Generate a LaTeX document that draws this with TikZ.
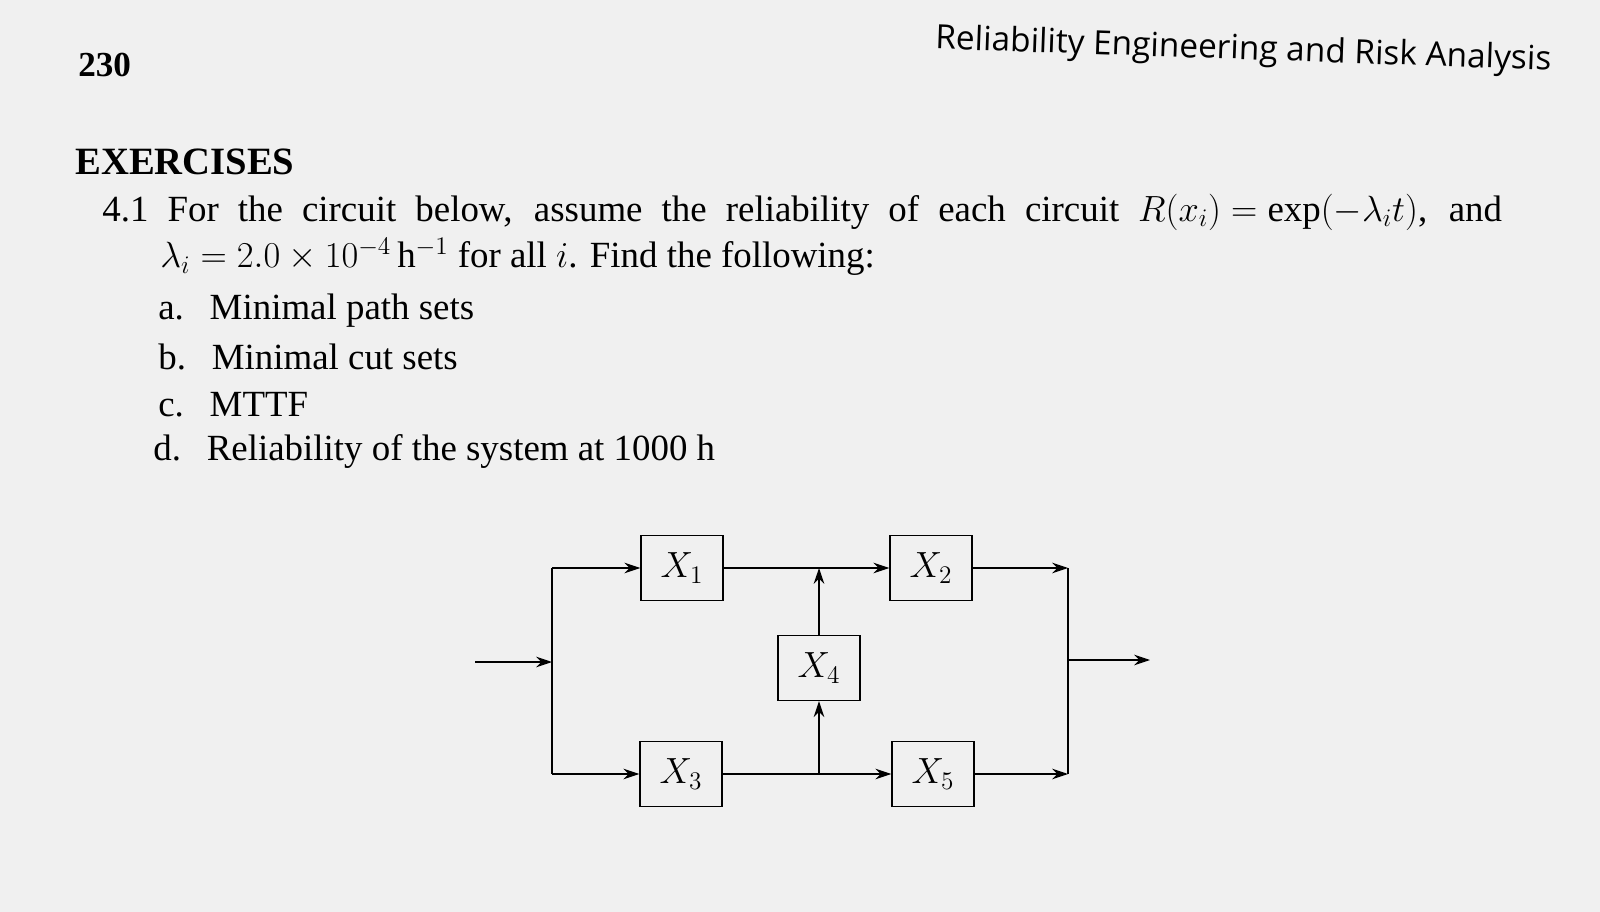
\documentclass[tikz,border=0pt]{standalone}
\usepackage{fontspec}
\setmainfont{Liberation Serif}
\newfontfamily\hdfont{Open Sans}
\usetikzlibrary{arrows.meta}
\begin{document}
\begin{tikzpicture}[x=0.02cm,y=-0.02cm,
  blk/.style={draw,thick,minimum width=1.64cm,minimum height=1.3cm,inner sep=0pt,font=\fontsize{22}{24}\selectfont},
  wire/.style={thick},
  arr/.style={thick,-{Stealth[length=9pt,width=6pt]}},
  txt/.style={anchor=west,inner sep=0pt,font=\fontsize{21}{24}\selectfont}]
\fill[gray!12] (0,0) rectangle (1600,912);
\useasboundingbox (0,0) rectangle (1600,912);
\node[anchor=west,inner sep=0pt,font=\fontsize{20}{22}\selectfont\bfseries] (pg) at (78,65) {230};
\node[anchor=west,inner sep=0pt,font=\hdfont\fontsize{19}{22}\selectfont,rotate=-2] (hd) at (935,40) {Reliability Engineering and Risk Analysis};
\node[txt,font=\fontsize{22}{24}\selectfont\bfseries] (ex) at (75,162) {EXERCISES};
\node[txt] (l1) at (102,212) {\makebox[28cm][s]{4.1 For the circuit below, assume the reliability of each circuit \mbox{$R(x_i)=\exp(-\lambda_i t)$}, and}};
\node[txt] (l2) at (160,257) {$\lambda_i = 2.0\times10^{-4}\,\mathrm{h}^{-1}$ for all $i$. Find the following:};
\node[txt] (a) at (158,311) {a.\hspace{0.7em}Minimal path sets};
\node[txt] (b) at (158,357) {b.\hspace{0.7em}Minimal cut sets};
\node[txt] (c) at (158,405) {c.\hspace{0.7em}MTTF};
\node[txt] (d) at (153,451) {d.\hspace{0.7em}Reliability of the system at 1000 h};
% blocks
\node[blk] (x1) at (682,568) {$X_1$};
\node[blk] (x2) at (931,568) {$X_2$};
\node[blk] (x4) at (819,668) {$X_4$};
\node[blk] (x3) at (681,774) {$X_3$};
\node[blk] (x5) at (933,774) {$X_5$};
\coordinate (in) at (475,662);
\coordinate (sp) at (552,662);
\coordinate (st) at (552,568);
\coordinate (sb) at (552,774);
\coordinate (jt) at (819,568);
\coordinate (jb) at (819,774);
\coordinate (mt) at (1068,568);
\coordinate (mb) at (1068,774);
\coordinate (mo) at (1068,660);
\coordinate (out) at (1150,660);
\draw[arr] (in) -- (sp);
\draw[wire] (st) -- (sb);
\draw[arr] (st) -- (x1.west);
\draw[arr] (sb) -- (x3.west);
\draw[arr] (x1.east) -- (x2.west);
\draw[arr] (x3.east) -- (x5.west);
\draw[arr] (x4.north) -- (jt);
\draw[arr] (jb) -- (x4.south);
\draw[arr] (x2.east) -- (mt);
\draw[arr] (x5.east) -- (mb);
\draw[wire] (mt) -- (mb);
\draw[arr] (mo) -- (out);
\end{tikzpicture}
\end{document}
